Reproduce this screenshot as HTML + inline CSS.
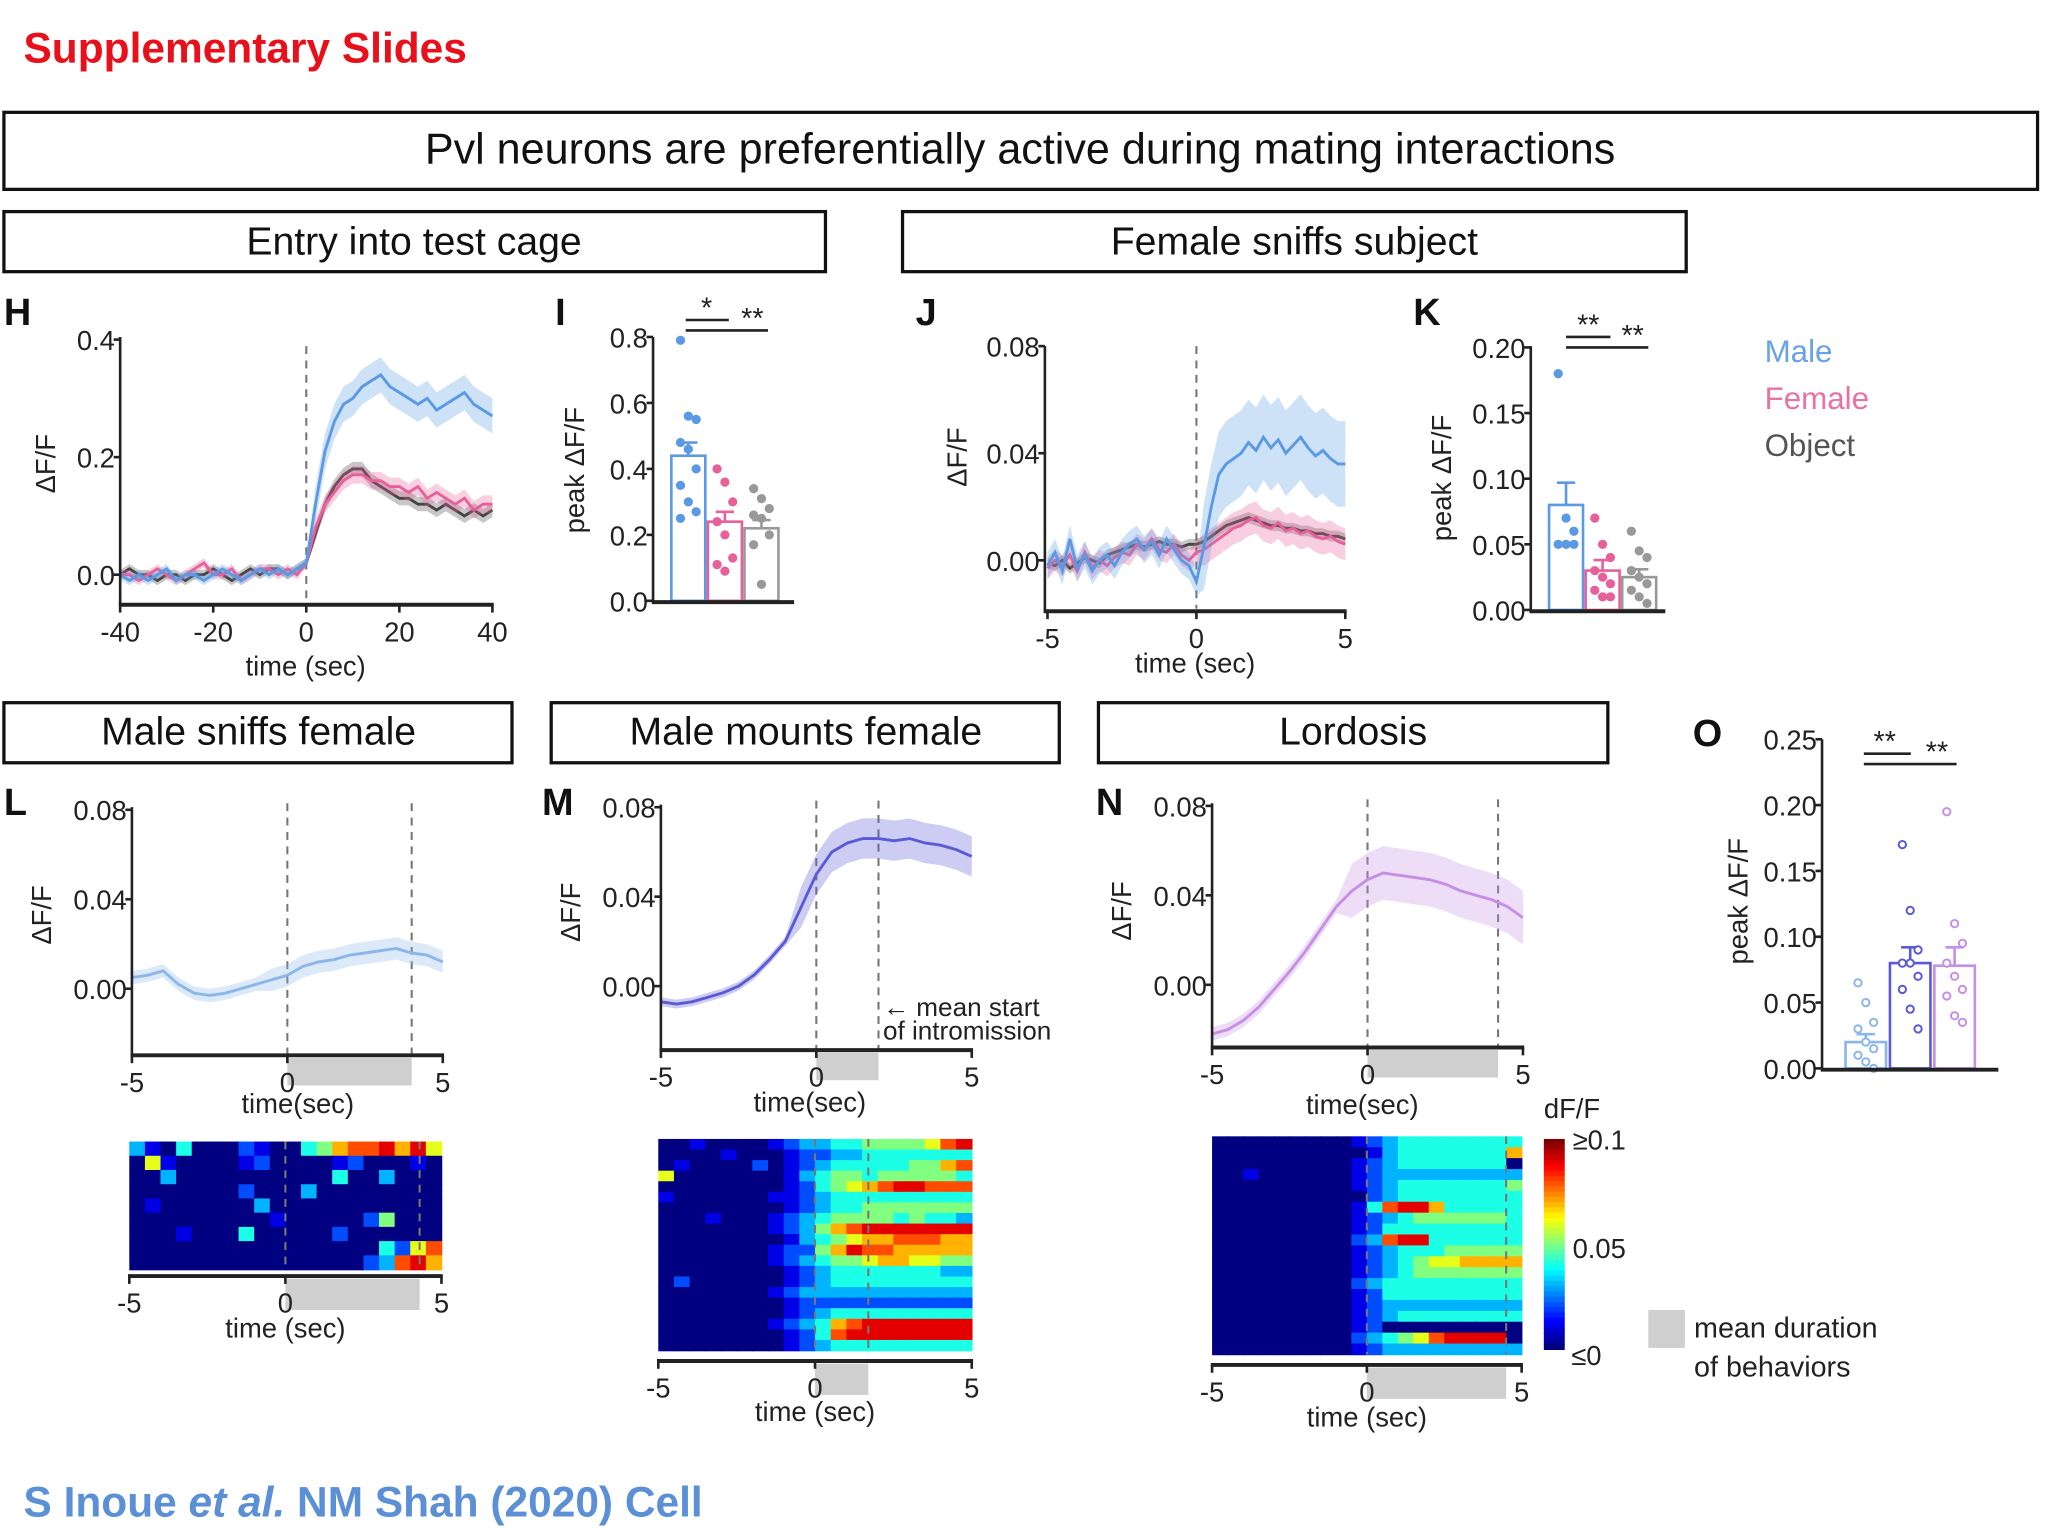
<!DOCTYPE html>
<html><head><meta charset="utf-8">
<style>
html,body{margin:0;padding:0;background:#fff;}
svg{display:block;font-family:"Liberation Sans",sans-serif;}
</style></head>
<body>
<svg id="fig" width="2048" height="1536" viewBox="0 0 1568 1176" xmlns="http://www.w3.org/2000/svg">
<rect x="0" y="0" width="1568" height="1176" fill="#fff"/>
<text x="18" y="48" font-size="32.5" font-weight="bold" fill="#e8101a">Supplementary Slides</text>
<rect x="3" y="86" width="1557" height="59" fill="none" stroke="#111" stroke-width="2.5"/>
<text x="781" y="125" font-size="33" text-anchor="middle" fill="#111">Pvl neurons are preferentially active during mating interactions</text>
<g font-size="30" text-anchor="middle" fill="#111" stroke-width="2.5">
<rect x="3" y="162" width="629" height="46" fill="none" stroke="#111"/>
<text x="317" y="195">Entry into test cage</text>
<rect x="691" y="162" width="600" height="46" fill="none" stroke="#111"/>
<text x="991" y="195">Female sniffs subject</text>
<rect x="3" y="538" width="389" height="46" fill="none" stroke="#111"/>
<text x="198" y="570">Male sniffs female</text>
<rect x="422" y="538" width="389" height="46" fill="none" stroke="#111"/>
<text x="617" y="570">Male mounts female</text>
<rect x="841" y="538" width="390" height="46" fill="none" stroke="#111"/>
<text x="1036" y="570">Lordosis</text>
</g>
<g font-size="29" font-weight="bold" fill="#111">
<text x="3" y="249">H</text>
<text x="425" y="249">I</text>
<text x="701" y="249">J</text>
<text x="1082" y="249">K</text>
<text x="3" y="624">L</text>
<text x="415" y="624">M</text>
<text x="839" y="624">N</text>
<text x="1296" y="571">O</text>
</g>
<g font-size="24">
<text x="1351" y="277" fill="#6aa2e6">Male</text>
<text x="1351" y="313" fill="#e872a2">Female</text>
<text x="1351" y="349" fill="#555">Object</text>
</g>
<text x="676" y="778" font-size="20" fill="#222">← mean start</text>
<text x="676" y="796" font-size="20" fill="#222">of intromission</text>
<text x="1182" y="856" font-size="21" fill="#222">dF/F</text>
<text x="1204" y="880" font-size="21" fill="#222">≥0.1</text>
<text x="1204" y="963" font-size="21" fill="#222">0.05</text>
<text x="1203" y="1045" font-size="21" fill="#222">≤0</text>
<rect x="1262" y="1003" width="28" height="29" fill="#cfcfcf"/>
<text x="1297" y="1024" font-size="22" fill="#222">mean duration</text>
<text x="1297" y="1054" font-size="22" fill="#222">of behaviors</text>
<text x="18" y="1161" font-size="32.5" font-weight="bold" fill="#5b8fd6">S Inoue <tspan font-style="italic">et al.</tspan> NM Shah (2020) Cell</text>
</svg>
<script>
// ---------- DATA ----------
const hTime=[-40,-38,-36,-34,-32,-30,-28,-26,-24,-22,-20,-18,-16,-14,-12,-10,-8,-6,-4,-2,0,2,4,6,8,10,12,14,16,18,20,22,24,26,28,30,32,34,36,38,40];
const hMale=[0.00,-0.01,0.00,-0.01,0.00,0.01,-0.01,0.00,0.00,-0.01,0.00,0.01,0.00,-0.01,0.00,0.01,0.00,0.01,0.00,0.01,0.02,0.12,0.21,0.26,0.29,0.30,0.32,0.33,0.34,0.32,0.31,0.30,0.29,0.30,0.28,0.29,0.30,0.31,0.29,0.28,0.27];
const hFemale=[0.00,0.00,-0.01,0.00,0.01,0.00,-0.01,0.00,0.01,0.02,0.00,0.00,0.01,-0.01,0.00,0.01,0.01,0.00,0.01,0.00,0.02,0.08,0.12,0.14,0.16,0.17,0.17,0.16,0.16,0.15,0.15,0.14,0.15,0.13,0.14,0.13,0.12,0.13,0.11,0.12,0.12];
const hObject=[0.00,0.01,0.00,0.00,-0.01,0.00,0.00,-0.01,0.00,0.00,0.01,0.00,-0.01,0.00,0.01,0.00,0.01,0.01,0.00,0.01,0.02,0.07,0.12,0.15,0.17,0.18,0.18,0.16,0.15,0.14,0.13,0.13,0.12,0.12,0.11,0.12,0.11,0.10,0.11,0.10,0.11];
const hTicksX=[-40,-20,0,20,40];
const hTicksY=[0.0,0.2,0.4];
const hTickLabelsY=["0.0","0.2","0.4"];

const jTime=[-5,-4.75,-4.5,-4.25,-4,-3.75,-3.5,-3.25,-3,-2.75,-2.5,-2.25,-2,-1.75,-1.5,-1.25,-1,-0.75,-0.5,-0.25,0,0.25,0.5,0.75,1,1.25,1.5,1.75,2,2.25,2.5,2.75,3,3.25,3.5,3.75,4,4.25,4.5,4.75,5];
const jMale=[-0.002,0.003,-0.004,0.008,-0.003,0.002,-0.004,0.000,0.002,-0.002,0.003,0.006,0.008,0.004,0.007,0.002,0.008,0.004,0.000,-0.002,-0.008,0.005,0.020,0.032,0.036,0.038,0.040,0.044,0.041,0.046,0.042,0.045,0.040,0.043,0.046,0.042,0.039,0.041,0.038,0.036,0.036];
const jFemale=[-0.003,0.000,-0.002,0.002,-0.004,0.003,-0.003,0.000,-0.002,0.001,0.003,0.002,0.006,0.004,0.008,0.004,0.003,0.006,0.002,0.000,0.003,0.004,0.006,0.008,0.010,0.012,0.013,0.015,0.016,0.013,0.012,0.014,0.011,0.012,0.010,0.011,0.009,0.008,0.009,0.007,0.006];
const jObject=[-0.001,-0.002,0.000,-0.003,-0.001,0.001,0.000,-0.001,0.002,0.003,0.004,0.005,0.006,0.005,0.006,0.007,0.006,0.006,0.005,0.006,0.006,0.007,0.009,0.011,0.013,0.014,0.015,0.016,0.015,0.014,0.013,0.013,0.012,0.012,0.011,0.011,0.010,0.010,0.009,0.009,0.008];
const shortTicksX=[-5,0,5];
const shortTicksY=[0.00,0.04,0.08];
const shortTickLabelsY=["0.00","0.04","0.08"];

const lmnTime=[-5,-4.5,-4,-3.5,-3,-2.5,-2,-1.5,-1,-0.5,0,0.5,1,1.5,2,2.5,3,3.5,4,4.5,5];
const lTrace=[0.005,0.006,0.008,0.002,-0.002,-0.003,-0.002,0.000,0.002,0.004,0.006,0.010,0.012,0.013,0.015,0.016,0.017,0.018,0.016,0.015,0.012];
const mTrace=[-0.007,-0.008,-0.007,-0.005,-0.003,0.000,0.005,0.012,0.020,0.035,0.050,0.060,0.064,0.066,0.066,0.065,0.066,0.064,0.063,0.061,0.058];
const nTrace=[-0.022,-0.020,-0.016,-0.010,-0.002,0.006,0.015,0.025,0.035,0.042,0.047,0.050,0.049,0.048,0.047,0.045,0.042,0.040,0.038,0.035,0.030];

const iMeans=[0.44,0.24,0.22];
const iSems=[0.04,0.03,0.025];
const iMaleDots=[0.79,0.56,0.55,0.48,0.46,0.40,0.35,0.30,0.27,0.25];
const iFemaleDots=[0.40,0.36,0.30,0.24,0.20,0.13,0.11,0.09];
const iObjectDots=[0.34,0.31,0.28,0.26,0.25,0.20,0.17,0.05];
const iTicksY=[0.0,0.2,0.4,0.6,0.8];
const iTickLabels=["0.0","0.2","0.4","0.6","0.8"];

const kMeans=[0.08,0.03,0.025];
const kSems=[0.017,0.008,0.006];
const kMaleDots=[0.18,0.07,0.06,0.05,0.05,0.05];
const kFemaleDots=[0.07,0.05,0.04,0.03,0.025,0.02,0.015,0.01,0.01];
const kObjectDots=[0.06,0.045,0.04,0.03,0.025,0.02,0.015,0.01,0.005];
const kTicksY=[0.00,0.05,0.10,0.15,0.20];
const kTickLabels=["0.00","0.05","0.10","0.15","0.20"];

const oMeans=[0.02,0.08,0.078];
const oSems=[0.006,0.012,0.014];
const oSniffDots=[0.065,0.05,0.035,0.03,0.02,0.015,0.01,0.005,0.0];
const oMountDots=[0.17,0.12,0.09,0.08,0.08,0.07,0.06,0.045,0.03];
const oLordDots=[0.195,0.11,0.095,0.08,0.07,0.06,0.055,0.04,0.035];
const oTicksY=[0.00,0.05,0.10,0.15,0.20,0.25];
const oTickLabels=["0.00","0.05","0.10","0.15","0.20","0.25"];

const heatL=[
"31040002100457889796",
"06100001200001200010",
"00300000000004003000",
"00000002000300000000",
"01000000300000000000",
"00000000010000025000",
"00010004000002000000",
"00000000000000004268",
"00000000000000023897"];
const heatM=[
"00100001233445555689",
"00001000122334444444",
"01000020123444445578",
"60000000134554555554",
"00000000124567899888",
"10000001123444444444",
"00000000123445555555",
"00010001234555545443",
"00000001235789999999",
"00000000134567788877",
"00000001225798877777",
"00000001234556776655",
"00000000123444444433",
"02000000123444444444",
"00000001233333333333",
"00000000122222222222",
"00000000123444444444",
"00000001234789999999",
"00000000124899999999",
"00000000123444444444"];
const heatN=[
"00000000012344444444",
"00000000001344444447",
"00000000012344444440",
"00100000012333333333",
"00000000012344444445",
"00000000002344444444",
"00000000014899744444",
"00000000012345555554",
"00000000012444444444",
"00000000023899444444",
"00000000012344455555",
"00000000012345667777",
"00000000012345555555",
"00000000023444444444",
"00000000012444444444",
"00000000012333333333",
"00000000012344444444",
"00000000012000000000",
"00000000023456899990",
"00000000012333333333"];

// ---------- DRAWING ----------
const NS="http://www.w3.org/2000/svg";
const svg=document.getElementById('fig');
function mk(tag,attrs,parent){const e=document.createElementNS(NS,tag);for(const k in attrs)e.setAttribute(k,attrs[k]);(parent||svg).appendChild(e);return e;}
function scale(d0,d1,r0,r1){return v=>r0+(v-d0)/(d1-d0)*(r1-r0);}
function jet(v){const c=x=>Math.max(0,Math.min(1,x));return `rgb(${Math.round(255*c(1.5-Math.abs(4*v-3)))},${Math.round(255*c(1.5-Math.abs(4*v-2)))},${Math.round(255*c(1.5-Math.abs(4*v-1)))})`;}

function axes(g,c,xTicks,xLabels,yTicks,yLabels){
  const a=mk('line',{x1:c.ax,y1:c.yTop,x2:c.ax,y2:c.xAxisY,stroke:'#222','stroke-width':2},g);
  
  const b=mk('line',{x1:c.ax-1,y1:c.xAxisY,x2:c.xRight,y2:c.xAxisY,stroke:'#222','stroke-width':3},g);
  
  yTicks.forEach((v,i)=>{const y=c.sy(v);
    mk('line',{x1:c.ax-5,y1:y,x2:c.ax,y2:y,stroke:'#222','stroke-width':2},g);
    const t=mk('text',{x:c.ax-4,y:y+8,'font-size':21,'text-anchor':'end',fill:'#222'},g);t.textContent=yLabels[i];
    });
  if(xTicks)xTicks.forEach((v,i)=>{const x=c.sx(v);
    mk('line',{x1:x,y1:c.xAxisY,x2:x,y2:c.xAxisY+6,stroke:'#222','stroke-width':2},g);
    const t=mk('text',{x:x,y:c.xAxisY+28,'font-size':21,'text-anchor':'middle',fill:'#222'},g);t.textContent=xLabels[i];
    });
}
function ylabel(g,x,y,txt){const t=mk('text',{x:0,y:0,'font-size':21,'text-anchor':'middle',fill:'#222',transform:`translate(${x},${y}) rotate(-90)`},g);t.textContent=txt;
  }
function xlabel(g,x,y,txt){const t=mk('text',{x:x,y:y,'font-size':21,'text-anchor':'middle',fill:'#222'},g);t.textContent=txt;
  }
function series(g,c,xs,ys,sem,color,name){
  let top='',bot='';
  xs.forEach((x,i)=>{const s=typeof sem==='function'?sem(x):sem;top+=(i?'L':'M')+c.sx(x).toFixed(1)+','+c.sy(ys[i]+s).toFixed(1);});
  for(let i=xs.length-1;i>=0;i--){const s=typeof sem==='function'?sem(xs[i]):sem;bot+='L'+c.sx(xs[i]).toFixed(1)+','+c.sy(ys[i]-s).toFixed(1);}
  const band=mk('path',{d:top+bot+'Z',fill:color,'fill-opacity':0.3,stroke:'none'},g);
  
  const d=xs.map((x,i)=>(i?'L':'M')+c.sx(x).toFixed(1)+','+c.sy(ys[i]).toFixed(1)).join('');
  const l=mk('path',{d:d,fill:'none',stroke:color,'stroke-width':2.2},g);
  
}
function dashed(g,x,y1,y2){const l=mk('line',{x1:x,y1:y1,x2:x,y2:y2,stroke:'#777','stroke-width':1.6,'stroke-dasharray':'6,5'},g);
  }
function grayRect(g,x1,x2,y,h){const r=mk('rect',{x:x1,y:y,width:x2-x1,height:h,fill:'#cfcfcf'},g);
  }

// Panel H
(function(){const g=mk('g',{});
 const c={ax:92,yTop:258,xAxisY:463,xRight:378,sx:scale(-40,40,92,377),sy:scale(0,0.4,440,260)};
 dashed(g,c.sx(0),265,460);
 series(g,c,hTime,hObject,t=>t>0?0.012:0.008,'#444','object');
 series(g,c,hTime,hFemale,t=>t>0?0.015:0.008,'#e8609a','female');
 series(g,c,hTime,hMale,t=>t>0?0.03:0.008,'#5a9ae4','male');
 axes(g,c,hTicksX,hTicksX.map(String),hTicksY,hTickLabelsY);
 ylabel(g,42,355,'ΔF/F');xlabel(g,234,517,'time (sec)');})();

// Panel J
(function(){const g=mk('g',{});
 const c={ax:800,yTop:265,xAxisY:468,xRight:1031,sx:scale(-5,5,802,1030),sy:scale(0,0.08,429,265)};
 dashed(g,c.sx(0),265,466);
 series(g,c,jTime,jObject,t=>t>0?0.002:0.002,'#444','object');
 series(g,c,jTime,jFemale,t=>t>0?0.006:0.004,'#e8609a','female');
 series(g,c,jTime,jMale,t=>t>0?0.016:0.005,'#5a9ae4','male');
 axes(g,c,shortTicksX,shortTicksX.map(String),shortTicksY,shortTickLabelsY);
 ylabel(g,740,350,'ΔF/F');xlabel(g,915,515,'time (sec)');})();

// Line panels L, M, N
function shortPanel(name,ax,xAxisY,y0,y08,xs,ys,semPre,semPost,color,dash2,labelX,labelY){
 const g=mk('g',{});
 const c={ax:ax,yTop:y08-2,xAxisY:xAxisY,xRight:ax+239,sx:scale(-5,5,ax,ax+238),sy:scale(0,0.08,y0,y08)};
 dashed(g,c.sx(0),y08-5,xAxisY);dashed(g,c.sx(dash2),y08-5,xAxisY);
 grayRect(g,c.sx(0),c.sx(dash2),xAxisY+2,21);
 series(g,c,xs,ys,t=>t>-1?semPost:semPre,color,'trace');
 axes(g,c,shortTicksX,shortTicksX.map(String),shortTicksY,shortTickLabelsY);
 ylabel(g,ax-62,(y0+y08)/2+12,'ΔF/F');xlabel(g,labelX,labelY,'time(sec)');
}
shortPanel('panel-l-chart',101,808,757,620,lmnTime,lTrace,0.003,0.005,'#8ab6ea',4.0,228,852);
shortPanel('panel-m-chart',506,804,755,618,lmnTime,mTrace,0.002,0.009,'#5a5ad6',2.0,620,851);
shortPanel('panel-n-chart',928,802,754,617,lmnTime,nTrace,0.003,0.012,'#c58fe6',4.2,1043,853);

// Bar panels
function barPanel(name,c,means,sems,dots,colors,ticks,labels,sig){
 const g=mk('g',{});
 means.forEach((m,i)=>{const x=c.bx[i],w=c.bw;
  const r=mk('rect',{x:x,y:c.sy(m),width:w,height:c.sy(0)-c.sy(m),fill:'#fff',stroke:colors[i],'stroke-width':2},g);
  
  const cx=x+w/2;
  mk('line',{x1:cx,y1:c.sy(m),x2:cx,y2:c.sy(m+sems[i]),stroke:colors[i],'stroke-width':2},g);
  mk('line',{x1:cx-7,y1:c.sy(m+sems[i]),x2:cx+7,y2:c.sy(m+sems[i]),stroke:colors[i],'stroke-width':2},g);
  dots[i].forEach((v,j)=>{const p=mk('circle',{cx:cx+((j%3)-1)*6,cy:c.sy(v),r:c.dr,fill:c.hollow?'#fff':colors[i],stroke:colors[i],'stroke-width':1.5},g);
   });});
 axes(g,c,null,null,ticks,labels);
 sig.forEach(s=>{mk('line',{x1:s[0],y1:s[2],x2:s[1],y2:s[2],stroke:'#222','stroke-width':2},g);
  const t=mk('text',{x:s[3],y:s[2]-2,'font-size':22,'text-anchor':'middle',fill:'#222'},g);t.textContent=s[4];
  });
 return g;}
const gi=barPanel('panel-i-chart',{ax:500,yTop:258,xAxisY:461,xRight:608,sy:scale(0,0.8,460,258),bx:[514,542,570],bw:26,dr:2.8},
 iMeans,iSems,[iMaleDots,iFemaleDots,iObjectDots],['#5a9ae4','#e8609a','#999'],iTicksY,iTickLabels,
 [[525,558,245,541,'*'],[525,588,253,576,'**']]);
ylabel(gi,447,360,'peak ΔF/F');
const gk=barPanel('panel-k-chart',{ax:1172,yTop:265,xAxisY:468,xRight:1275,sy:scale(0,0.2,467,266),bx:[1186,1214,1242],bw:26,dr:2.8},
 kMeans,kSems,[kMaleDots,kFemaleDots,kObjectDots],['#5a9ae4','#e8609a','#999'],kTicksY,kTickLabels,
 [[1199,1233,258,1216,'**'],[1199,1262,266,1250,'**']]);
ylabel(gk,1111,366,'peak ΔF/F');
const go=barPanel('panel-o-chart',{ax:1395,yTop:566,xAxisY:819,xRight:1530,sy:scale(0,0.25,818,566),bx:[1413,1447,1481],bw:31,dr:2.8,hollow:true},
 oMeans,oSems,[oSniffDots,oMountDots,oLordDots],['#8ab6ea','#5a5ad6','#c58fe6'],oTicksY,oTickLabels,
 [[1427,1463,577,1443,'**'],[1427,1498,585,1483,'**']]);
ylabel(go,1338,690,'peak ΔF/F');

// Heatmaps
function heatmap(name,rows,x0,x1,y0,y1,axisY,grayEnd,labelY){
 const g=mk('g',{});
 const cols=rows[0].length,cw=(x1-x0)/cols,rh=(y1-y0)/rows.length;
 rows.forEach((r,i)=>{for(let j=0;j<cols;j++){const cell=mk('rect',{x:(x0+j*cw).toFixed(2),y:(y0+i*rh).toFixed(2),width:(cw+0.6).toFixed(2),height:(rh+0.6).toFixed(2),fill:jet(+r[j]/10)},g);
  }});
 const sx=scale(-5,5,x0,x1);
 dashed(g,sx(0),y0,y1);dashed(g,sx(grayEnd),y0,y1);
 grayRect(g,sx(0),sx(grayEnd),axisY+2,24);
 const c={ax:x0,yTop:axisY,xAxisY:axisY,xRight:x1+1,sx:sx,sy:v=>v};
 axes(g,c,shortTicksX,shortTicksX.map(String),[],[]);
 xlabel(g,sx(0),labelY,'time (sec)');
}
heatmap('heatmap-l',heatL,99,338,874,972,977,4.3,1024);
heatmap('heatmap-m',heatM,504,744,872,1034,1042,1.7,1088);
heatmap('heatmap-n',heatN,928,1165,870,1037,1045,4.5,1092);
// colorbar
(function(){const g=mk('g',{});
 const n=40;for(let i=0;i<n;i++){mk('rect',{x:1182,y:872+i*161/n,width:16,height:161/n+0.6,fill:jet(1-i/(n-1))},g);}})();
</script>
</body></html>
